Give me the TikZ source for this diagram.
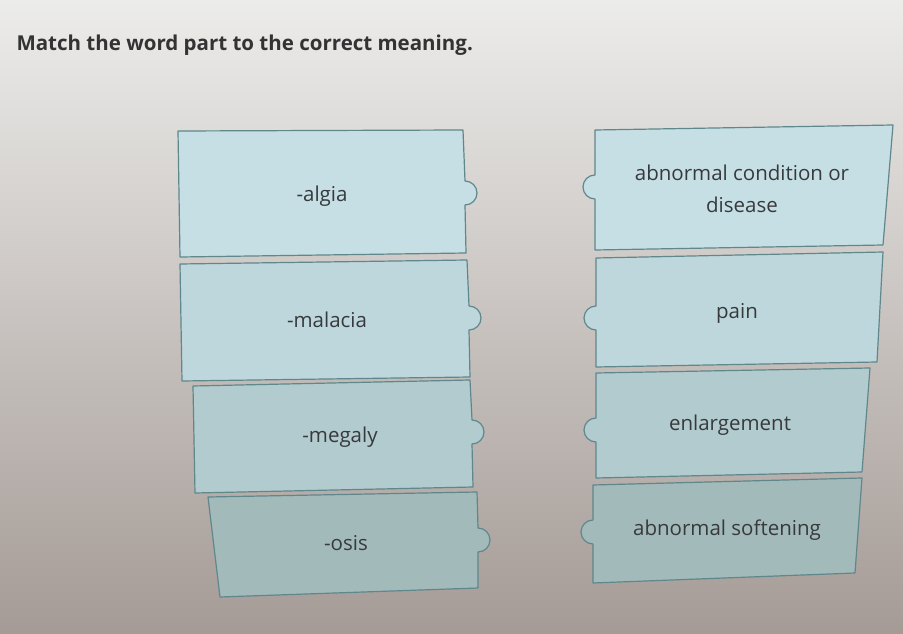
\documentclass[tikz,border=0pt]{standalone}
\usepackage{fontspec}
\setmainfont{Open Sans}
\usepackage{tikz}

\definecolor{screentop}{RGB}{236,236,234}
\definecolor{screenbot}{RGB}{165,155,150}
\definecolor{cardline}{RGB}{95,135,140}
\definecolor{rowA}{RGB}{198,223,229}
\definecolor{rowB}{RGB}{190,215,220}
\definecolor{rowC}{RGB}{178,203,206}
\definecolor{rowD}{RGB}{163,186,186}
\definecolor{inktext}{RGB}{55,58,60}

\begin{document}
\begin{tikzpicture}[x=1pt,y=1pt,
  card/.style={draw=cardline, line width=1.2pt, line join=round},
  every node/.append style={text=inktext, font=\fontsize{20.5}{32}\selectfont, align=center}]
% screen
\shade[top color=screentop, bottom color=screenbot] (0,0) rectangle (903,633);
\useasboundingbox (0,0) rectangle (903,633);
\node[anchor=west, font=\bfseries\fontsize{20.5}{24}\selectfont, text=black!80] (title) at (13,588) {Match the word part to the correct meaning.};

% word parts (tab on the right)
\draw[card, fill=rowA] (178,502) -- (463,503) -- (465,452) arc[start angle=90,end angle=-90,radius=12] -- (466,380) -- (180,376) -- cycle;
\draw[card, fill=rowB] (180,369) -- (467,373) -- (469,327) arc[start angle=90,end angle=-90,radius=12] -- (470,256) -- (182,252) -- cycle;
\draw[card, fill=rowC] (193,247) -- (470,253) -- (472,213) arc[start angle=90,end angle=-90,radius=12] -- (473,146) -- (195,140) -- cycle;
\draw[card, fill=rowD] (208,136) -- (477,141) -- (478,105) arc[start angle=90,end angle=-90,radius=12] -- (478,45) -- (220,36) -- cycle;

% meanings (tab on the left)
\draw[card, fill=rowA] (595,503) -- (893,508) -- (883,388) -- (595,383) -- (595,434) arc[start angle=-90,end angle=-270,radius=12] -- cycle;
\draw[card, fill=rowB] (596,375) -- (883,381) -- (877,271) -- (596,266) -- (596,303) arc[start angle=-90,end angle=-270,radius=12] -- cycle;
\draw[card, fill=rowC] (596,260) -- (870,265) -- (862,161) -- (596,155) -- (596,191) arc[start angle=-90,end angle=-270,radius=12] -- cycle;
\draw[card, fill=rowD] (593,148) -- (862,155) -- (855,60) -- (593,50) -- (593,89) arc[start angle=-90,end angle=-270,radius=12] -- cycle;

\node (algia) at (322,437) {-algia};
\node (malacia) at (327,313) {-malacia};
\node (megaly) at (340,196) {-megaly};
\node (osis) at (346,90) {-osis};

\node (disease) at (742,444) {abnormal condition or\\disease};
\node (pain) at (737,320) {pain};
\node (enlarge) at (730,208) {enlargement};
\node (soften) at (727,103) {abnormal softening};
\end{tikzpicture}
\end{document}
